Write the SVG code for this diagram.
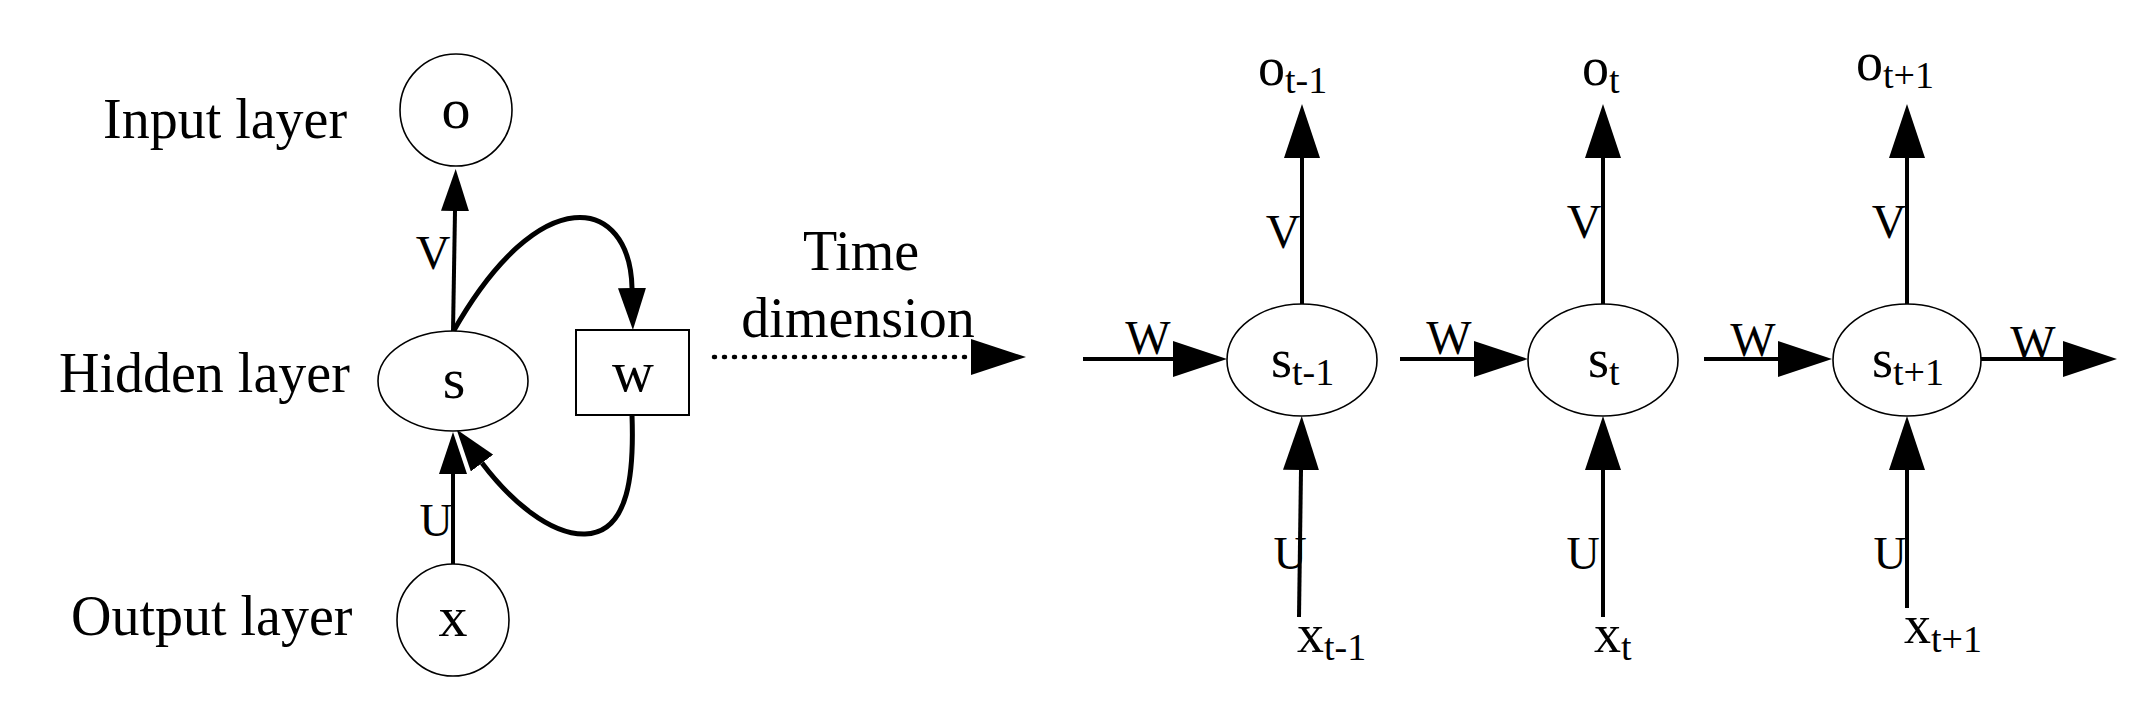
<svg xmlns="http://www.w3.org/2000/svg" width="2146" height="717" viewBox="0 0 2146 717">
<style>
text{font-family:"Liberation Serif","Times New Roman",serif;fill:#000}
.lab{font-size:56px}
.nl{font-size:58px;text-anchor:middle}
.nd{font-size:54px}
.sub{font-size:38px}
.el{font-size:48px;text-anchor:middle}
.u{font-size:46px}
.node{fill:#fff;stroke:#000;stroke-width:1.6}
.ln{fill:none;stroke:#000;stroke-width:4}
.cv{fill:none;stroke:#000;stroke-width:5}
.dot{fill:none;stroke:#000;stroke-width:4.5;stroke-dasharray:1 9;stroke-linecap:round}
</style>
<defs>
<marker id="ah" markerUnits="userSpaceOnUse" markerWidth="54" markerHeight="36" refX="0" refY="18" orient="auto" viewBox="0 0 54 36"><path d="M0,0 L54,18 L0,36 z" fill="#000"/></marker>
<marker id="ahs" markerUnits="userSpaceOnUse" markerWidth="42" markerHeight="28" refX="0" refY="14" orient="auto" viewBox="0 0 42 28"><path d="M0,0 L42,14 L0,28 z" fill="#000"/></marker>
</defs>
<rect width="2146" height="717" fill="#fff"/>

<g id="layer-labels">
<text class="lab" x="103" y="138">Input layer</text>
<text class="lab" x="59" y="392">Hidden layer</text>
<text class="lab" x="71" y="635">Output layer</text>
<text class="lab" x="861" y="270" text-anchor="middle">Time</text>
<text class="lab" x="858" y="337" text-anchor="middle">dimension</text>
</g>

<g id="connectors">
<path class="ln" d="M453,332 L455,211" marker-end="url(#ahs)"/>
<path class="ln" d="M453,564 L453,474" marker-end="url(#ahs)"/>
<path class="cv" d="M453,332 C540,178 630,196 632,288" marker-end="url(#ahs)"/>
<path class="cv" d="M632,415 C634,470 630,533 585,534 C550,535 510,500 482,463" marker-end="url(#ahs)"/>
<path class="dot" d="M714,357 L969,357"/>
<path d="M971,339 L1026,357 L971,375 z" fill="#000"/>
<path class="ln" d="M1302,304 L1302,158" marker-end="url(#ah)"/>
<path class="ln" d="M1603,304 L1603,158" marker-end="url(#ah)"/>
<path class="ln" d="M1907,304 L1907,158" marker-end="url(#ah)"/>
<path class="ln" d="M1299,617 L1301,470" marker-end="url(#ah)"/>
<path class="ln" d="M1603,617 L1603,470" marker-end="url(#ah)"/>
<path class="ln" d="M1907,608 L1907,470" marker-end="url(#ah)"/>
<path class="ln" d="M1083,359 L1173,359" marker-end="url(#ah)"/>
<path class="ln" d="M1400,359 L1474,359" marker-end="url(#ah)"/>
<path class="ln" d="M1704,359 L1778,359" marker-end="url(#ah)"/>
<path class="ln" d="M1980,359 L2063,359" marker-end="url(#ah)"/>
<text class="el" x="433" y="269">V</text>
<text class="el u" x="436" y="536">U</text>
<text class="el" x="1283" y="248">V</text>
<text class="el" x="1584" y="238">V</text>
<text class="el" x="1889" y="238">V</text>
<text class="el u" x="1290" y="569">U</text>
<text class="el u" x="1583" y="569">U</text>
<text class="el u" x="1890" y="569">U</text>
<text class="el" x="1148" y="354">W</text>
<text class="el" x="1449" y="354">W</text>
<text class="el" x="1753" y="356">W</text>
<text class="el" x="2033" y="359">W</text>
</g>

<g id="node-o"><ellipse class="node" cx="456" cy="110" rx="56" ry="56"/><text class="nl" x="456" y="128">o</text></g>
<g id="node-s"><ellipse class="node" cx="453" cy="381" rx="75" ry="50"/><text class="nl" x="454" y="398">s</text></g>
<g id="node-w"><rect class="node" x="576" y="330" width="113" height="85" style="stroke-width:2"/><text class="nl" x="633" y="391">w</text></g>
<g id="node-x"><ellipse class="node" cx="453" cy="620" rx="56" ry="56"/><text class="nl" x="453" y="636">x</text></g>

<g id="node-o-t-1"><text class="nd" x="1258" y="85">o<tspan class="sub" dy="8">t-1</tspan></text></g>
<g id="node-o-t"><text class="nd" x="1582" y="85">o<tspan class="sub" dy="8">t</tspan></text></g>
<g id="node-o-t+1"><text class="nd" x="1856" y="80">o<tspan class="sub" dy="8">t+1</tspan></text></g>

<g id="node-s-t-1"><ellipse class="node" cx="1302" cy="360" rx="75" ry="56"/><text class="nd" x="1271" y="377">s<tspan class="sub" dy="8">t-1</tspan></text></g>
<g id="node-s-t"><ellipse class="node" cx="1603" cy="360" rx="75" ry="56"/><text class="nd" x="1588" y="377">s<tspan class="sub" dy="8">t</tspan></text></g>
<g id="node-s-t+1"><ellipse class="node" cx="1907" cy="360" rx="74" ry="56"/><text class="nd" x="1872" y="377">s<tspan class="sub" dy="8">t+1</tspan></text></g>

<g id="node-x-t-1"><text class="nd" x="1297" y="652">x<tspan class="sub" dy="8">t-1</tspan></text></g>
<g id="node-x-t"><text class="nd" x="1594" y="652">x<tspan class="sub" dy="8">t</tspan></text></g>
<g id="node-x-t+1"><text class="nd" x="1904" y="643">x<tspan class="sub" dy="9">t+1</tspan></text></g>
</svg>
